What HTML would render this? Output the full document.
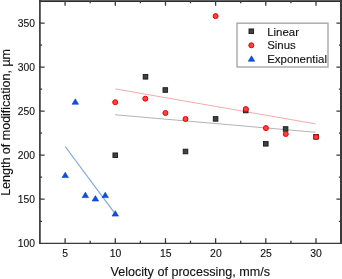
<!DOCTYPE html>
<html><head><meta charset="utf-8">
<style>
html,body{margin:0;padding:0;background:#fff;width:342px;height:279px;overflow:hidden}
svg{display:block}
text{font-family:"Liberation Sans",sans-serif;fill:#111;stroke:#111;stroke-width:0.12px}
svg{will-change:transform}
</style></head>
<body>
<svg width="342" height="279" viewBox="0 0 342 279">
<defs>
<g id="sq"><rect x="-2.3" y="-2.3" width="4.6" height="4.6" fill="#404040" stroke="#1a1a1a" stroke-width="0.9"/></g>
<g id="ci"><circle r="2.5" fill="#ff4040" stroke="#f00000" stroke-width="1"/></g>
<g id="tr"><path d="M0,-2.8 L3.2,2.6 L-3.2,2.6 Z" fill="#0f4ee0" stroke="#003ed4" stroke-width="0.6" stroke-linejoin="round"/></g>
</defs>

<!-- fit lines -->
<line x1="115.3" y1="88.9" x2="315.6" y2="123.9" stroke="#f5aaae" stroke-width="1.0"/>
<line x1="115" y1="114.8" x2="315.4" y2="132.2" stroke="#b4b4b4" stroke-width="1.05"/>
<line x1="65.15" y1="146.5" x2="115.2" y2="213.8" stroke="#7ea6f0" stroke-width="1.2"/>

<!-- frame -->
<g stroke="#3a3a3a" fill="none">
<line x1="39" y1="1.2" x2="342" y2="1.2" stroke-width="1.7" stroke="#2c2c2c"/>
<line x1="39" y1="243.4" x2="342" y2="243.4" stroke-width="1.3"/>
<line x1="39.9" y1="0" x2="39.9" y2="244" stroke-width="1.7"/>
<line x1="341" y1="0" x2="341" y2="244" stroke-width="2"/>
</g>

<!-- ticks -->
<g stroke="#3a3a3a" stroke-width="1.3">
<path d="M65.1,243v-4.7M115.3,243v-4.7M165.5,243v-4.7M215.6,243v-4.7M265.8,243v-4.7M316,243v-4.7"/>
<path d="M90.2,243v-2.3M140.4,243v-2.3M190.5,243v-2.3M240.7,243v-2.3M290.9,243v-2.3"/>
<path d="M65.1,1v4.7M115.3,1v4.7M165.5,1v4.7M215.6,1v4.7M265.8,1v4.7M316,1v4.7"/>
<path d="M90.2,1v2.3M140.4,1v2.3M190.5,1v2.3M240.7,1v2.3M290.9,1v2.3"/>
<path d="M40,23.1h4.6M40,67.1h4.6M40,111.1h4.6M40,155.2h4.6M40,199.2h4.6"/>
<path d="M40,45.1h2.1M40,89.1h2.1M40,133.2h2.1M40,177.2h2.1M40,221.3h2.1"/>
<path d="M341,23.1h-4.6M341,67.1h-4.6M341,111.1h-4.6M341,155.2h-4.6M341,199.2h-4.6"/>
<path d="M341,45.1h-2.1M341,89.1h-2.1M341,133.2h-2.1M341,177.2h-2.1M341,221.3h-2.1"/>
</g>

<!-- tick labels -->
<g font-size="10.3" text-anchor="end">
<text x="34.9" y="26.8">350</text>
<text x="34.9" y="70.8">300</text>
<text x="34.9" y="114.8">250</text>
<text x="34.9" y="158.8">200</text>
<text x="34.9" y="202.8">150</text>
<text x="34.9" y="246.8">100</text>
</g>
<g font-size="10.4" text-anchor="middle">
<text x="65.1" y="256.7">5</text>
<text x="115.6" y="256.7">10</text>
<text x="165.8" y="256.7">15</text>
<text x="215.9" y="256.7">20</text>
<text x="266.1" y="256.7">25</text>
<text x="316" y="256.7">30</text>
</g>

<!-- axis titles -->
<text x="190.3" y="275.9" font-size="12.6" text-anchor="middle">Velocity of processing, mm/s</text>
<text transform="translate(9.9,122.4) rotate(-90)" font-size="12.5" text-anchor="middle">Length of modification, µm</text>

<!-- markers: squares (Linear) -->
<use href="#sq" x="115.25" y="155.25"/>
<use href="#sq" x="145.5" y="76.8"/>
<use href="#sq" x="165.3" y="90"/>
<use href="#sq" x="185.5" y="151.5"/>
<use href="#sq" x="215.6" y="118.9"/>
<use href="#sq" x="245.7" y="110.5"/>
<use href="#sq" x="265.8" y="143.8"/>
<use href="#sq" x="285.6" y="129"/>
<use href="#sq" x="316" y="136.8"/>

<!-- circles (Sinus) -->
<use href="#ci" x="115.2" y="102.2"/>
<use href="#ci" x="145.3" y="98.7"/>
<use href="#ci" x="165.4" y="113"/>
<use href="#ci" x="185.5" y="119"/>
<use href="#ci" x="215.6" y="16.1"/>
<use href="#ci" x="245.8" y="109.1"/>
<use href="#ci" x="265.9" y="128.1"/>
<use href="#ci" x="285.75" y="134"/>
<use href="#ci" x="316" y="137"/>

<!-- triangles (Exponential) -->
<use href="#tr" x="65.25" y="175"/>
<use href="#tr" x="75.3" y="101.65"/>
<use href="#tr" x="85.35" y="195"/>
<use href="#tr" x="95.4" y="198.4"/>
<use href="#tr" x="105.25" y="195"/>
<use href="#tr" x="115.3" y="213.5"/>

<!-- legend -->
<rect x="237" y="23.2" width="91" height="43.8" fill="#fff" stroke="#a8a8a8" stroke-width="1.4"/>
<use href="#sq" x="251.3" y="31.25"/>
<use href="#ci" x="251.3" y="45.3"/>
<use href="#tr" x="251.5" y="58.65"/>
<g font-size="11.45">
<text x="267.2" y="35.6">Linear</text>
<text x="267.2" y="49.2">Sinus</text>
<text x="267.2" y="62.9">Exponential</text>
</g>
</svg>
</body></html>
